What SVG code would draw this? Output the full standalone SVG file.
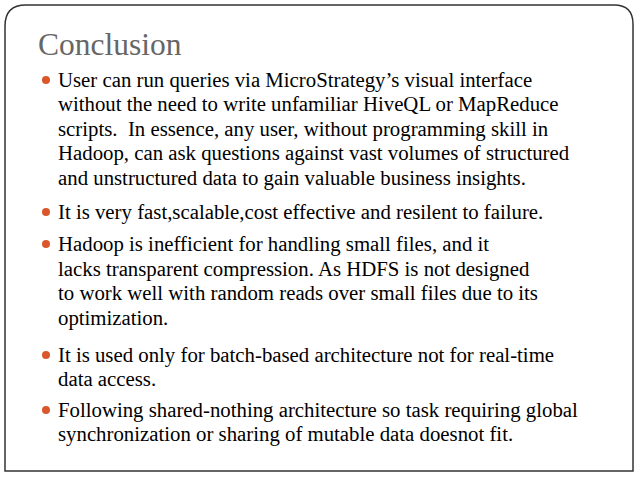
<svg xmlns="http://www.w3.org/2000/svg" width="638" height="478" viewBox="0 0 638 478">
<style>
text{font-family:'Liberation Serif','Times New Roman',Tinos,'DejaVu Serif',serif}
.t{font-size:20.8px;fill:#000}
.b{fill:#d9572b}
</style>
<rect width="638" height="478" fill="#fff"/>
<path d="M26 5 H614 Q633 5 633 24 V471 H5 V26 Q5 5 26 5 Z" fill="none" stroke="#333" stroke-width="1.5"/>
<text x="38" y="55" font-size="31.5" fill="#666">Conclusion</text>
<g class="b">
<circle cx="46" cy="80" r="4"/><circle cx="46" cy="212" r="4"/><circle cx="46" cy="244" r="4"/><circle cx="46" cy="355" r="4"/><circle cx="46" cy="410" r="4"/>
</g>
<g>
<text x="58" y="87" class="t">User can run queries via MicroStrategy’s visual interface</text>
<text x="58" y="111" class="t">without the need to write unfamiliar HiveQL or MapReduce</text>
<text x="58" y="136" class="t" xml:space="preserve">scripts.  In essence, any user, without programming skill in</text>
<text x="58" y="160" class="t">Hadoop, can ask questions against vast volumes of structured</text>
<text x="58" y="185" class="t">and unstructured data to gain valuable business insights.</text>
<text x="58" y="219" class="t">It is very fast,scalable,cost effective and resilent to failure.</text>
<text x="58" y="251" class="t">Hadoop is inefficient for handling small files, and it</text>
<text x="58" y="276" class="t">lacks transparent compression. As HDFS is not designed</text>
<text x="58" y="300" class="t">to work well with random reads over small files due to its</text>
<text x="58" y="325" class="t">optimization.</text>
<text x="58" y="362" class="t">It is used only for batch-based architecture not for real-time</text>
<text x="58" y="386" class="t">data access.</text>
<text x="58" y="417" class="t">Following shared-nothing architecture so task requiring global</text>
<text x="58" y="441" class="t">synchronization or sharing of mutable data doesnot fit.</text>
</g>
</svg>
